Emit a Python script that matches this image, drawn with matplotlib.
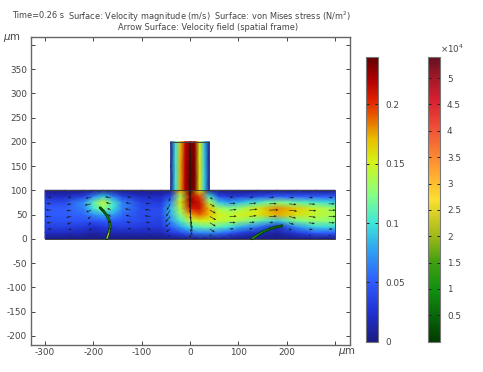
import numpy as np
import matplotlib
matplotlib.use("Agg")
import matplotlib.pyplot as plt
from matplotlib.colors import LinearSegmentedColormap, Normalize
from matplotlib.cm import ScalarMappable
from matplotlib.collections import LineCollection

# ---- data ----
channel_x = [-300,-260,-220,-200,-180,-160,-140,-100,-60,-40,-20,0,20,40,60,80,100,140,180,220,260,300]
channel_y = [0,12.5,25,37.5,50,62.5,75,87.5,100]
channel_speed = [
 [0]*22,
 [.02,.02,.015,.01,.015,.015,.015,.015,.015,.03,.04,.055,.065,.065,.06,.05,.035,.015,.01,.03,.05,.05],
 [.035,.035,.03,.025,.03,.03,.035,.03,.03,.05,.075,.10,.11,.115,.11,.10,.085,.06,.02,.07,.095,.095],
 [.045,.045,.045,.045,.05,.05,.045,.04,.035,.07,.105,.14,.15,.15,.145,.14,.135,.115,.09,.12,.13,.125],
 [.05,.05,.055,.07,.08,.075,.055,.04,.04,.08,.125,.175,.19,.17,.15,.145,.15,.155,.175,.16,.145,.135],
 [.05,.05,.065,.10,.125,.10,.065,.04,.04,.085,.14,.205,.21,.17,.135,.125,.13,.155,.18,.165,.145,.13],
 [.04,.04,.07,.11,.145,.105,.065,.035,.03,.07,.155,.225,.21,.14,.09,.075,.085,.105,.125,.115,.105,.095],
 [.02,.02,.035,.065,.09,.065,.035,.02,.02,.04,.135,.225,.195,.10,.04,.03,.03,.04,.05,.05,.05,.05],
 [0,0,0,0,0,0,0,0,0,0,.175,.24,.155,0,0,0,0,0,0,0,0,0],
]
stem_x = [-40,-30,-20,-10,0,10,20,30,40]
stem_y = [100,150,200]
stem_speed = [
 [0,.10,.175,.22,.24,.235,.155,.09,0],
 [0,.10,.175,.22,.24,.235,.155,.09,0],
 [0,.10,.17,.215,.235,.23,.15,.085,0],
]

arrow_x = [-287,-246,-205,-164,-123,-82,-41,0,41,82,123,164,205,246,287]
arrow_y = [7,20,33,46,59,72,85]
arrow_u = [
 [-.01,-.02,-.01,-.01,-.01,-.02,-.03,.01,.03,.025,.01,.01,.015,.03,.03],
 [-.05,-.04,-.03,-.03,-.04,-.05,-.06,.03,.07,.06,.045,.025,.04,.055,.055],
 [-.07,-.06,-.04,-.04,-.06,-.07,-.07,.03,.085,.085,.075,.06,.07,.085,.085],
 [-.08,-.07,-.05,-.04,-.07,-.08,-.07,.03,.09,.10,.10,.105,.10,.10,.10],
 [-.08,-.07,-.07,-.05,-.08,-.08,-.06,.02,.085,.10,.115,.13,.115,.105,.10],
 [-.07,-.06,-.09,-.07,-.07,-.07,-.05,.01,.07,.085,.10,.105,.105,.09,.085],
 [-.05,-.05,-.08,-.08,-.05,-.04,-.02,.00,.045,.055,.06,.07,.07,.06,.06],
]
arrow_v = [
 [0,0,0,.005,.005,.005,-.01,-.04,-.01,0,.005,0,-.005,0,0],
 [0,-.01,-.02,.02,.01,.005,-.04,-.09,-.045,.005,.01,.01,-.015,-.01,0],
 [0,-.02,-.03,.03,.015,.01,-.06,-.13,-.05,.005,.012,.01,-.025,-.012,0],
 [0,-.015,-.04,.03,.02,.01,-.08,-.17,-.05,.005,.012,.005,-.025,-.012,0],
 [.005,-.01,-.03,.03,.02,.01,-.09,-.20,-.045,.01,.015,.005,-.015,-.01,0],
 [.005,-.01,-.02,.02,.02,.01,-.09,-.22,-.04,.01,.012,.005,-.01,-.005,0],
 [.005,0,-.01,.01,.01,.005,-.06,-.22,-.025,.01,.01,.005,0,0,0],
]
stem_arrow_x = [0,0,0,0,0,0,0,0,0]
stem_arrow_y = [98,111,124,137,150,163,176,189,197]
stem_arrow_u = [0,0,0,0,0,0,0,0,0]
stem_arrow_v = [-.23,-.235,-.235,-.235,-.235,-.235,-.235,-.235,-.2]

domain_x = [-300,-40,-40,40,40,300,300,-300,-300]
domain_y = [100,100,200,200,100,100,0,0,100]
wall_x = [-40,40]
wall_y = [100,100]

beam1_x = [-172,-168,-165,-167,-172,-179,-186]
beam1_y = [0,12,25,38,48,57,64]
beam1_stress = [2.4,1.6,1.1,.9,.7,.4,.2]
beam2_x = [128,140,152,170,190]
beam2_y = [0,8,15,22,27]
beam2_stress = [1.4,1.0,.8,.6,.2]

velocity_ticks = [0,.05,.1,.15,.2]
velocity_labels = ['0','0.05','0.1','0.15','0.2']
stress_ticks = [.5,1,1.5,2,2.5,3,3.5,4,4.5,5]
stress_labels = ['0.5','1','1.5','2','2.5','3','3.5','4','4.5','5']
x_ticks = [-300,-200,-100,0,100,200,300]
x_labels = ['-300','-200','-100','0','100','200','']
y_ticks = [-200,-150,-100,-50,0,50,100,150,200,250,300,350,400]
y_labels = ['-200','-150','-100','-50','0','50','100','150','200','250','300','350','']

# ---- colour maps ----
vel_cmap = LinearSegmentedColormap.from_list('vel', [
 (0,'#1c1c84'),(.1,'#2030d0'),(.21,'#2f5cff'),(.33,'#30a8f0'),(.42,'#40e8d8'),(.52,'#88ff80'),
 (.63,'#d4f418'),(.71,'#e8c000'),(.79,'#e86000'),(.85,'#e02000'),(.92,'#b00000'),(1,'#640000')])
stress_cmap = LinearSegmentedColormap.from_list('stress', [
 (0,'#003c00'),(.18,'#109010'),(.28,'#40a010'),(.37,'#a0b818'),(.5,'#fce030'),(.62,'#ff9830'),
 (.75,'#f05038'),(.85,'#d82030'),(.93,'#a01828'),(1,'#641020')])

vel_norm = Normalize(0,.24)
stress_norm = Normalize(0,5.4)
grey = '#444444'
plt.rcParams.update({'font.family':'DejaVu Sans','font.size':6.4,'text.color':grey,
                     'axes.edgecolor':'#666666','xtick.color':grey,'ytick.color':grey,
                     'mathtext.default':'regular'})

W,H = 483,372
fig = plt.figure(figsize=(W/100,H/100),dpi=100)
def rect(l,t,r,b):
    return [l/W,(H-b)/H,(r-l)/W,(b-t)/H]

ax = fig.add_axes(rect(30.5,37,349.5,345))
ax.set_xlim(-330,330); ax.set_ylim(-219,416)
ax.pcolormesh(channel_x,channel_y,np.array(channel_speed),cmap=vel_cmap,norm=vel_norm,shading='gouraud',rasterized=True)
ax.pcolormesh(stem_x,stem_y,np.array(stem_speed),cmap=vel_cmap,norm=vel_norm,shading='gouraud',rasterized=True)
ax.plot(domain_x,domain_y,color='#444444',lw=.7)
ax.plot(wall_x,wall_y,color='#333333',lw=.6)

for bx,by,bs in [(beam1_x,beam1_y,beam1_stress),(beam2_x,beam2_y,beam2_stress)]:
    pts = np.column_stack([bx,by])
    ax.plot(bx,by,color='#073a07',lw=2.0,solid_capstyle='round',zorder=3)
    segs = np.stack([pts[:-1],pts[1:]],axis=1)
    lc = LineCollection(segs,array=np.array(bs[:-1]),cmap=stress_cmap,norm=stress_norm,lw=.8,zorder=4)
    ax.add_collection(lc)

qk = dict(angles='xy',scale_units='xy',scale=.0068,color='#1a1a1a',units='dots',
          width=.6,headwidth=3.5,headlength=4.5,headaxislength=4,minlength=.3,zorder=5)
ax_x,ax_y = np.meshgrid(arrow_x,arrow_y)
ax.quiver(ax_x,ax_y,np.array(arrow_u),np.array(arrow_v),**qk)
ax.quiver(stem_arrow_x,stem_arrow_y,stem_arrow_u,stem_arrow_v,**qk)

ax.set_xticks(x_ticks,x_labels); ax.set_yticks(y_ticks,y_labels)
ax.tick_params(direction='in',top=True,right=True,length=3,width=.7,pad=2.5,labelsize=6.4)
for s in ax.spines.values(): s.set_linewidth(1.0)

fig.text(12.5/W,1-15.5/H,'Time=0.26 s',fontsize=5.95,va='center',ha='left')
fig.text(209/W,1-17/H,'Surface: Velocity magnitude (m/s)  Surface: von Mises stress (N/m$^2$)',fontsize=5.95,va='center',ha='center')
fig.text(208/W,1-27.5/H,'Arrow Surface: Velocity field (spatial frame)',fontsize=5.95,va='center',ha='center')
fig.text(3/W,1-38.5/H,r'$\mathit{\mu}$m',fontsize=7.4,va='center',ha='left')
fig.text(338/W,1-351.5/H,r'$\mathit{\mu}$m',fontsize=7.4,va='center',ha='left')

def bar(l,r,cmap,norm,ticks,labels):
    c = fig.add_axes(rect(l,57,r,341.7))
    cb = fig.colorbar(ScalarMappable(norm=norm,cmap=cmap),cax=c)
    cb.set_ticks(ticks,labels=labels)
    c.tick_params(direction='in',left=True,right=True,length=2.2,width=.7,color='#222222',pad=5,labelsize=6.4)
    cb.outline.set_edgecolor('#777777'); cb.outline.set_linewidth(.8)
    return c
bar(366,378,vel_cmap,vel_norm,velocity_ticks,velocity_labels)
bar(428,440,stress_cmap,stress_norm,stress_ticks,stress_labels)
fig.text(440/W,1-48.5/H,r'×10$^4$',fontsize=6.3,va='center',ha='left')

fig.savefig('out.png',dpi=100)
